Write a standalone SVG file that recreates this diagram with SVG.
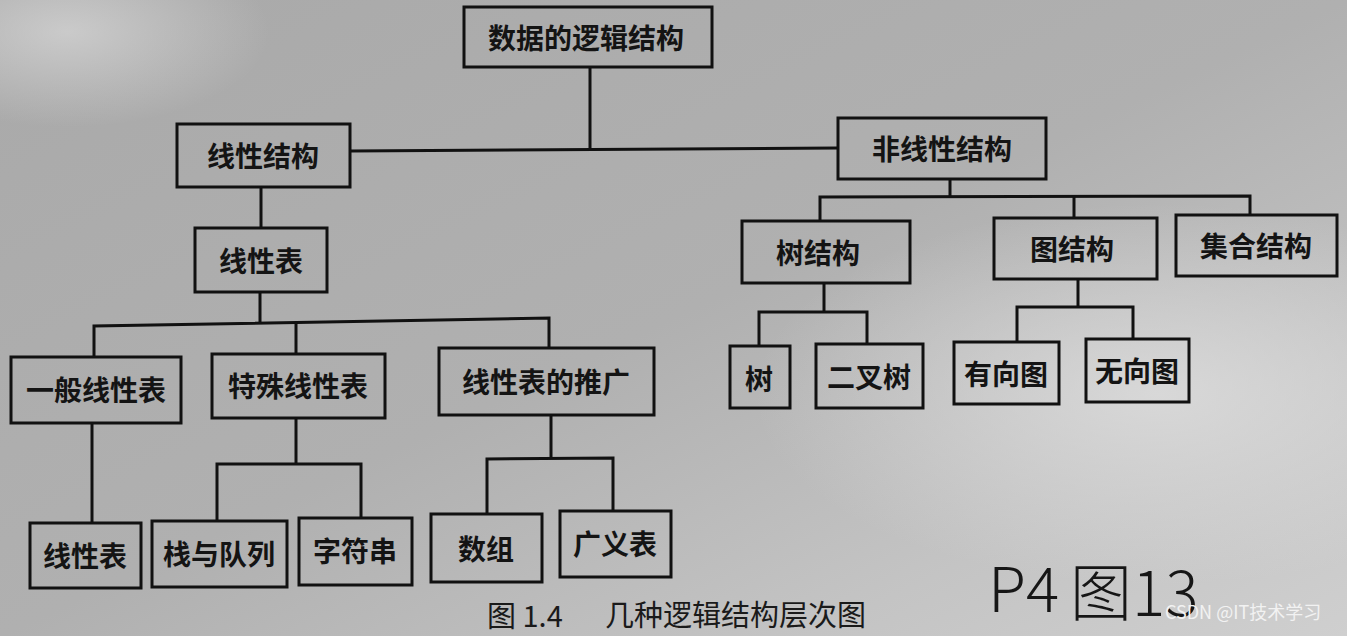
<svg xmlns="http://www.w3.org/2000/svg" width="1347" height="636" viewBox="0 0 1347 636">
<defs>
<linearGradient id="paper" x1="0" y1="0" x2="1" y2="1">
<stop offset="0" stop-color="#a9a9a9"/>
<stop offset="0.5" stop-color="#b0b0b0"/>
<stop offset="0.8" stop-color="#c4c4c4"/>
<stop offset="1" stop-color="#cfcfcf"/>
</linearGradient>
<radialGradient id="glare" cx="0.86" cy="0.62" r="0.3">
<stop offset="0" stop-color="#dedede" stop-opacity="0.8"/>
<stop offset="1" stop-color="#dedede" stop-opacity="0"/>
</radialGradient>
<radialGradient id="glare2" cx="0.05" cy="0.05" r="0.15">
<stop offset="0" stop-color="#d8d8d8" stop-opacity="0.7"/>
<stop offset="1" stop-color="#d8d8d8" stop-opacity="0"/>
</radialGradient>
<style>
.box{fill:none;stroke:#111;stroke-width:3}
.lbl{font-family:"Noto Sans CJK SC","Noto Sans",sans-serif;font-weight:bold;font-size:28px;fill:#141414;text-anchor:middle;dominant-baseline:central}
.con{fill:none;stroke:#111;stroke-width:3}
.cap{font-family:"Noto Sans CJK SC","Liberation Serif",serif;font-size:29px;fill:#1a1a1a}
.hand{font-family:"Noto Sans CJK SC",sans-serif;font-size:62px;font-weight:200;fill:#161616}
.wm{font-family:"Noto Sans CJK SC","Liberation Sans",sans-serif;font-size:18px;fill:#f2f2f2}
</style>
</defs>
<rect width="1347" height="636" fill="url(#paper)"/>
<rect width="1347" height="636" fill="url(#glare)"/>
<rect width="1347" height="636" fill="url(#glare2)"/>

<g id="connectors">
<polyline class="con" points="590,67 590,150"/>
<polyline class="con" points="350,151 838,148"/>
<polyline class="con" points="261,187 261,228"/>
<polyline class="con" points="260,292 260,323"/>
<polyline class="con" points="94,357 94,326 549,318 549,348"/>
<polyline class="con" points="296,322 296,354"/>
<polyline class="con" points="92,423 92,522"/>
<polyline class="con" points="296,418 296,464"/>
<polyline class="con" points="217,521 217,464 361,464 361,518"/>
<polyline class="con" points="551,415 551,458"/>
<polyline class="con" points="487,514 487,459 613,458 613,511"/>
<polyline class="con" points="950,179 950,197"/>
<polyline class="con" points="820,221 820,197 1250,196 1250,215"/>
<polyline class="con" points="1074,197 1074,218"/>
<polyline class="con" points="824,283 824,312"/>
<polyline class="con" points="759,346 759,312 867,312 867,344"/>
<polyline class="con" points="1078,279 1078,307"/>
<polyline class="con" points="1017,342 1017,307 1133,307 1133,339"/>
</g>

<g id="n-root"><rect class="box" x="464" y="7" width="248" height="60"/><text class="lbl" x="586" y="37">数据的逻辑结构</text></g>
<g id="n-linear"><rect class="box" x="177" y="124" width="173" height="63"/><text class="lbl" x="263" y="155">线性结构</text></g>
<g id="n-nonlinear"><rect class="box" x="838" y="118" width="208" height="61"/><text class="lbl" x="942" y="148">非线性结构</text></g>
<g id="n-list"><rect class="box" x="195" y="228" width="132" height="64"/><text class="lbl" x="261" y="260">线性表</text></g>
<g id="n-general"><rect class="box" x="11" y="357" width="170" height="66"/><text class="lbl" x="96" y="389">一般线性表</text></g>
<g id="n-special"><rect class="box" x="212" y="354" width="173" height="64"/><text class="lbl" x="298" y="385">特殊线性表</text></g>
<g id="n-ext"><rect class="box" x="439" y="348" width="215" height="67"/><text class="lbl" x="546" y="381">线性表的推广</text></g>
<g id="n-list2"><rect class="box" x="30" y="523" width="111" height="65"/><text class="lbl" x="85" y="555">线性表</text></g>
<g id="n-stack"><rect class="box" x="152" y="521" width="135" height="66"/><text class="lbl" x="219" y="553">栈与队列</text></g>
<g id="n-string"><rect class="box" x="299" y="518" width="113" height="67"/><text class="lbl" x="355" y="550">字符串</text></g>
<g id="n-array"><rect class="box" x="431" y="514" width="111" height="68"/><text class="lbl" x="486" y="548">数组</text></g>
<g id="n-glist"><rect class="box" x="560" y="511" width="111" height="66"/><text class="lbl" x="615" y="543">广义表</text></g>
<g id="n-treeS"><rect class="box" x="742" y="221" width="168" height="62"/><text class="lbl" x="818" y="252">树结构</text></g>
<g id="n-graphS"><rect class="box" x="994" y="218" width="163" height="61"/><text class="lbl" x="1072" y="248">图结构</text></g>
<g id="n-set"><rect class="box" x="1176" y="215" width="161" height="61"/><text class="lbl" x="1256" y="245">集合结构</text></g>
<g id="n-tree"><rect class="box" x="730" y="346" width="60" height="62"/><text class="lbl" x="759" y="378">树</text></g>
<g id="n-btree"><rect class="box" x="816" y="344" width="107" height="64"/><text class="lbl" x="869" y="376">二叉树</text></g>
<g id="n-dg"><rect class="box" x="954" y="342" width="105" height="62"/><text class="lbl" x="1006" y="373">有向图</text></g>
<g id="n-ug"><rect class="box" x="1086" y="339" width="103" height="63"/><text class="lbl" x="1137" y="370">无向图</text></g>

<text class="cap" x="487" y="627">图 1.4</text>
<text class="cap" x="605" y="626">几种逻辑结构层次图</text>
<text class="hand" x="988" y="612">P4</text>
<text class="hand" x="1070" y="616">图13</text>
<text class="wm" x="1165" y="619">CSDN @IT技术学习</text>
</svg>
